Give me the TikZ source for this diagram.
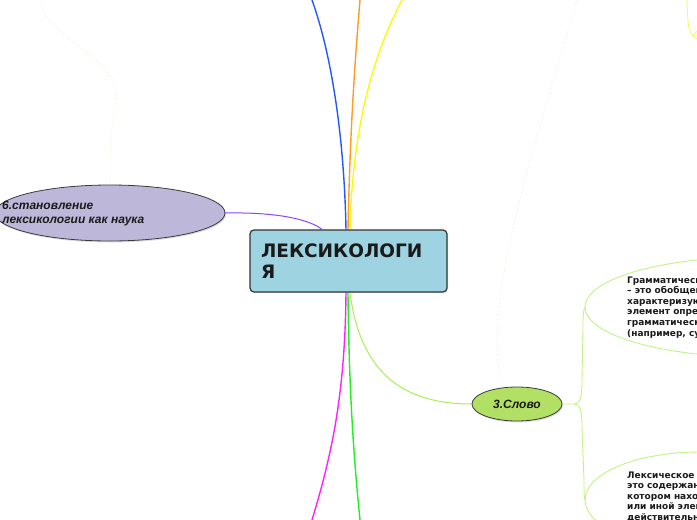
\documentclass[tikz,border=0pt]{standalone}
\usepackage{fontspec}
\setmainfont{DejaVu Sans}
\newfontfamily\mapfont{Liberation Sans}
\usepackage{tikz}
\usetikzlibrary{positioning, calc}
\usetikzlibrary{shapes.geometric}
\usetikzlibrary{shadows}
\usetikzlibrary{backgrounds}

\definecolor{lexblue}{HTML}{9ED4E1}
\definecolor{boxedge}{HTML}{333333}
\definecolor{edgegray}{HTML}{3A3A3A}
\definecolor{inkgray}{HTML}{1A1A1A}
\definecolor{stanovlilac}{HTML}{BDB8DA}
\definecolor{slovogreen}{HTML}{B2E064}
\definecolor{leafgreen}{HTML}{C2F286}
\definecolor{mapblue}{HTML}{2457FF}
\definecolor{maporange}{HTML}{FF9A22}
\definecolor{mapyellow}{HTML}{FAFA10}
\definecolor{mapviolet}{HTML}{8846FF}
\definecolor{maplime}{HTML}{A6F24E}
\definecolor{mapgreen}{HTML}{22EE22}
\definecolor{mapmagenta}{HTML}{FF22FF}
\definecolor{faintline}{HTML}{F3F6E2}

\begin{document}
\begin{tikzpicture}[x=1pt,y=-1pt,
    topic/.style={ellipse, draw=edgegray, line width=0.8pt, inner sep=0pt,
        drop shadow={opacity=0.25, shadow xshift=1pt, shadow yshift=-1.5pt}},
    note/.style={ellipse, draw=leafgreen, line width=0.9pt, inner sep=0pt, fill=white},
    notetext/.style={anchor=base west, align=left, inner sep=0pt, text=inkgray,
        font=\bfseries\fontsize{9}{10.6}\selectfont},
    topictext/.style={inner sep=0pt, text=inkgray,
        font=\mapfont\bfseries\itshape\fontsize{12}{14.5}\selectfont},
    branch/.style={line width=1.4pt},
    twig/.style={line width=0.9pt, leafgreen},
    faint/.style={line width=0.8pt, dash pattern=on 2pt off 2pt, faintline}]
                \useasboundingbox (0,0) rectangle (697,520);
                % main topic
                \node[draw=boxedge, line width=1.2pt, fill=lexblue, rounded corners=4pt,
                    minimum width=197pt, minimum height=62pt, text width=175pt, inner xsep=11pt,
                    align=left, text=inkgray, font=\bfseries\fontsize{18.5}{21}\selectfont,
                    drop shadow={opacity=0.2, shadow xshift=1pt, shadow yshift=-1pt}]
                    (lex) at (348.5,261) {ЛЕКСИКОЛОГИ\\Я};
                % subtopics (base = last line)
                \node[topic, fill=stanovlilac, minimum width=230pt, minimum height=56pt] (stanov) at (110,213) {};
                \node[topictext, anchor=base west, align=left] (stanovtxt) at (2,223.5) {6.становление\\лексикологии как наука};
                \node[topic, topictext, fill=slovogreen, minimum width=90pt, minimum height=34pt] (slovo) at (517,404) {3.Слово};
                % notes of 3.Слово
                \node[note, minimum width=340pt, minimum height=100pt] (gramz) at (755,307) {};
                \node[notetext] (gramtxt) at (627,336) {Грамматическое значение\\– это обобщенное\\характеризующее\\элемент определенного\\грамматического класса\\(например, существительное)};
                \node[note, minimum width=230pt, minimum height=96pt] (leksz) at (700,500) {};
                \node[notetext] (lekstxt) at (627,520.4) {Лексическое значение –\\это содержание слова, в\\котором находит отражение тот\\или иной элемент\\действительности};
                % free ends
                \coordinate (blueend) at (312,0);
                \coordinate (orangeend) at (360,0);
                \coordinate (yellowend) at (402,0);
                \coordinate (greenend) at (360,520);
                \coordinate (magentaend) at (312,520);
                \coordinate (hookend) at (687,0);
                \coordinate (hookfork) at (693,36);
                \coordinate (slovofork) at (574,404);
                \coordinate (faintleft) at (42,0);
                \coordinate (faintright) at (577,0);
                \begin{scope}[on background layer]
                \draw[branch, mapblue] ([xshift=-2.5pt]lex.north) .. controls (344,130) and (330,50) .. (blueend);
                \draw[branch, maporange] ([xshift=-0.5pt]lex.north) .. controls (350,130) and (355,60) .. (orangeend);
                \draw[branch, mapyellow] ([xshift=1.5pt]lex.north) .. controls (352,150) and (365,70) .. (yellowend);
                \draw[line width=1pt, mapviolet] (stanov.east) .. controls (280,212) and (310,220) .. ([xshift=-26.5pt]lex.north);
                \draw[line width=1pt, maplime] ([xshift=1.5pt]lex.south) .. controls (360,370) and (400,404) .. (slovo.west);
                \draw[branch, mapgreen] ([xshift=-0.5pt]lex.south) .. controls (349,400) and (355,470) .. (greenend);
                \draw[branch, mapmagenta] ([xshift=-2.5pt]lex.south) .. controls (345,400) and (330,460) .. (magentaend);
                \draw[twig] (slovo.east) -- (slovofork) .. controls (581,404) and (582,395) .. (582,380) -- (583,330) .. controls (583,315) .. (gramz.west);
                \draw[twig] (slovofork) .. controls (581,404) and (582,413) .. (582,428) -- (584,480) .. controls (584,492) .. (leksz.west);
                \draw[line width=0.9pt, mapyellow!70!white] (hookend) .. controls (688,28) .. (hookfork) -- (697,39);
                \draw[line width=0.9pt, mapyellow!70!white] (hookfork) -- (697,31);
                \draw[faint] (faintleft) .. controls (40,40) and (130,55) .. (115,110) .. controls (110,140) .. (stanov.north);
                \draw[faint] (faintright) .. controls (540,130) and (480,300) .. ([xshift=-15pt]slovo.north);
                \end{scope}
            \end{tikzpicture}
\end{document}
